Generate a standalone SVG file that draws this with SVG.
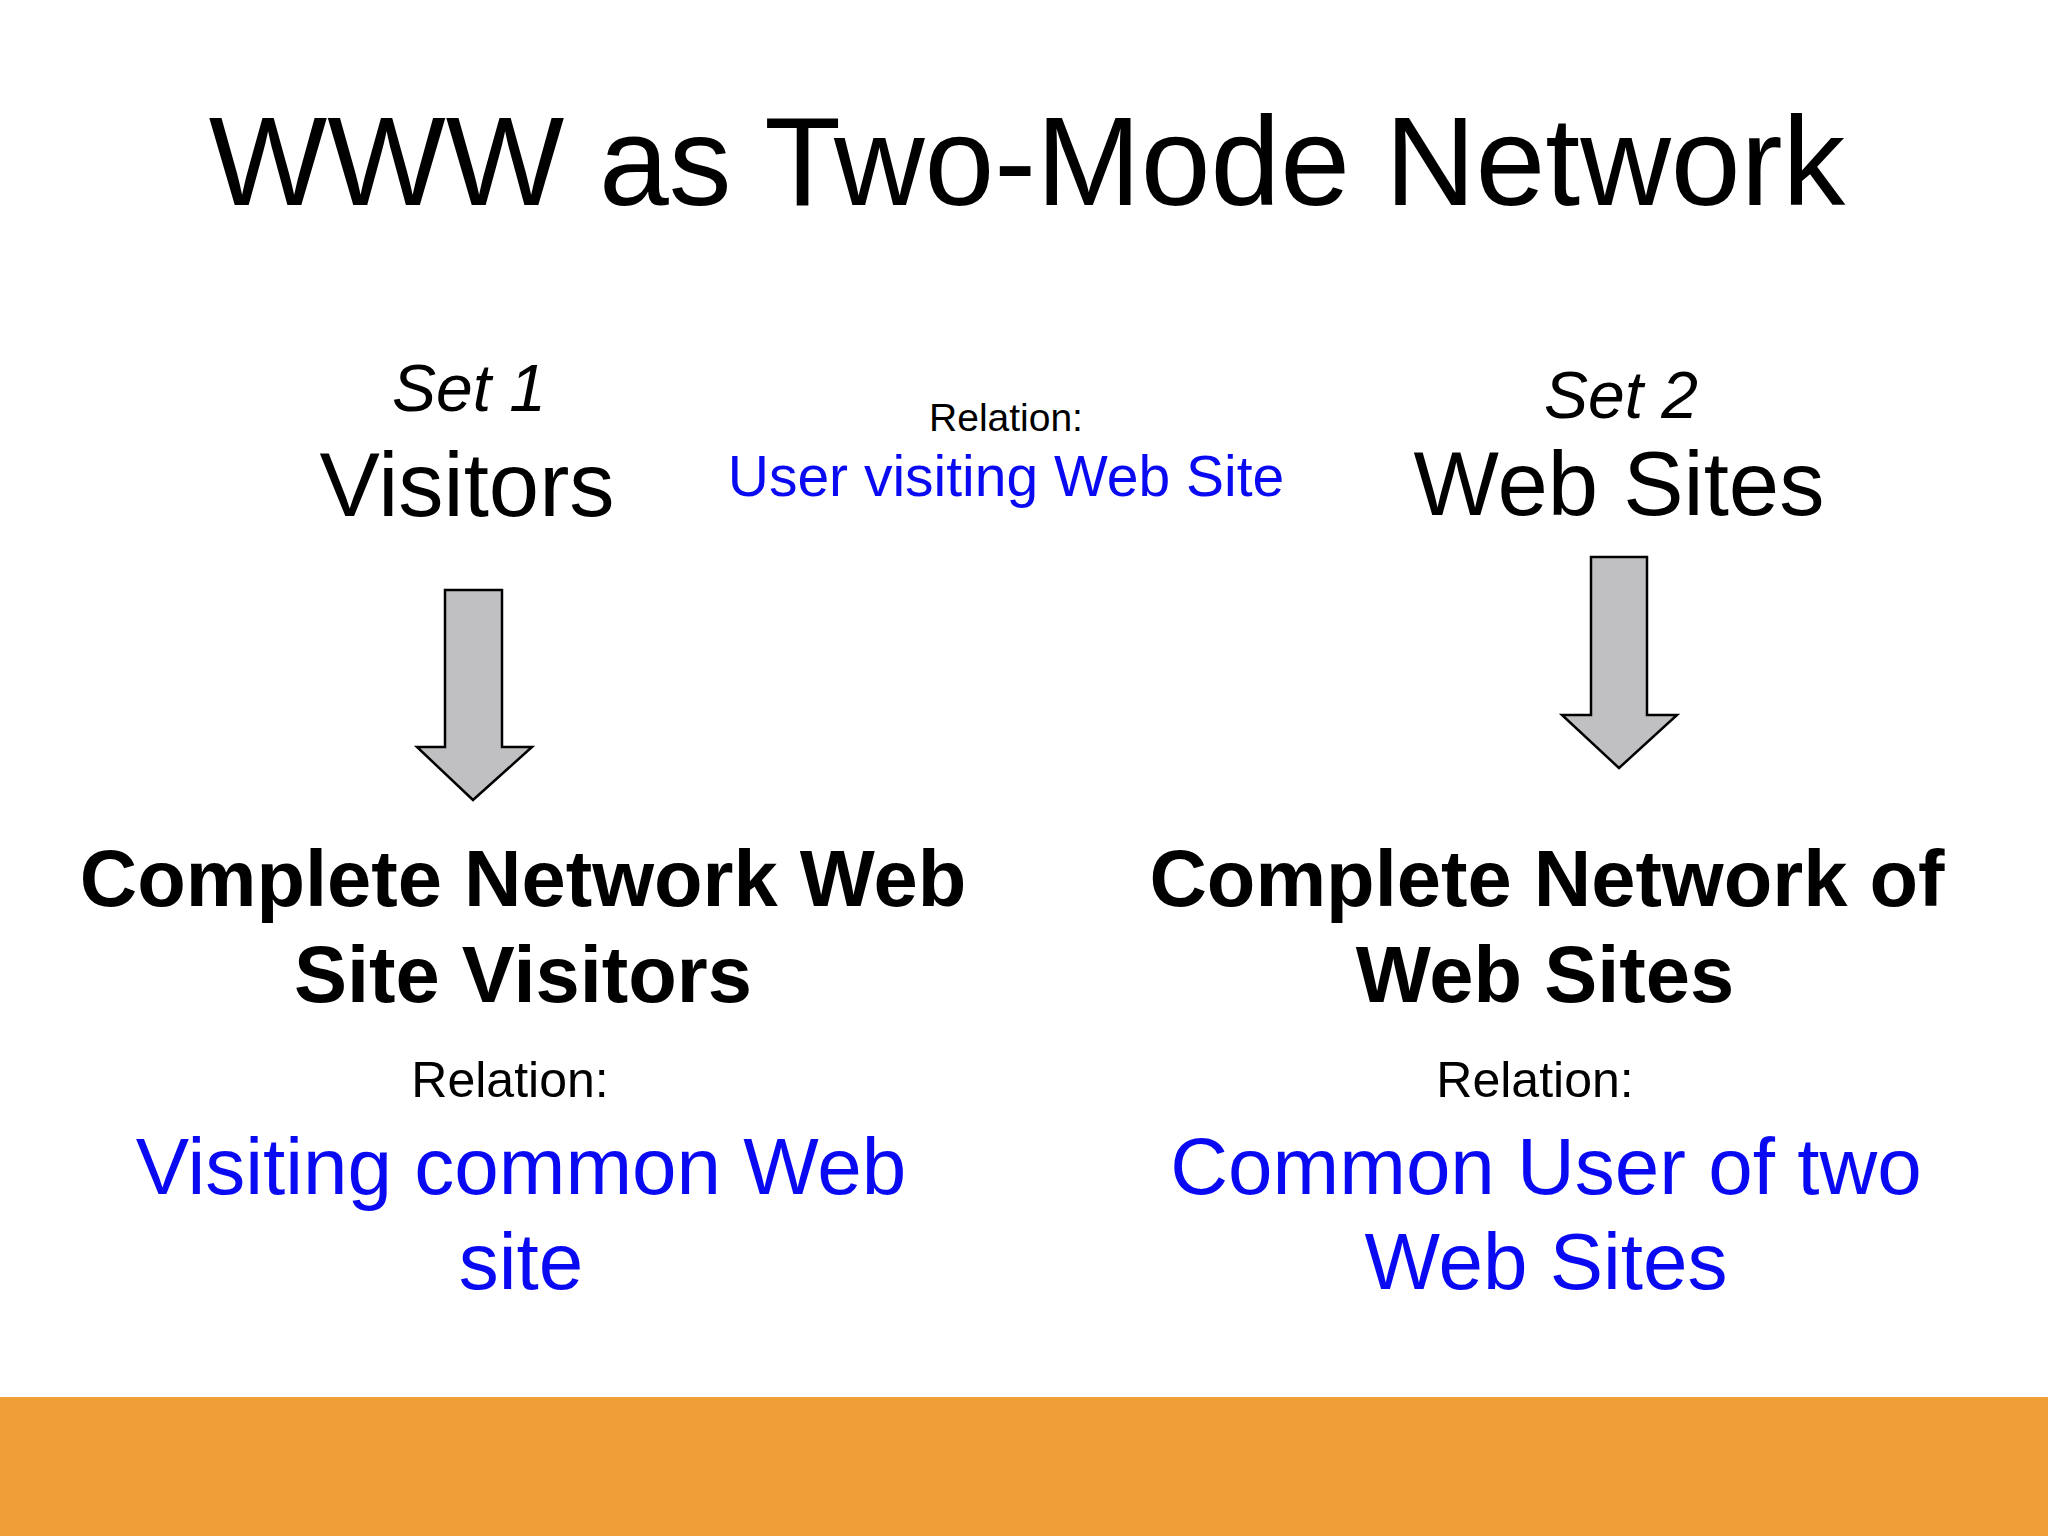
<svg xmlns="http://www.w3.org/2000/svg" width="2048" height="1536" viewBox="0 0 2048 1536">
<style>
text{font-family:"Liberation Sans",Arial,sans-serif;text-anchor:middle}
.blk{fill:#000}
.blue{fill:#0A0AF2}
.it{font-style:italic}
.bold{font-weight:bold}
.arrow{fill:#C0BFC2;stroke:#000;stroke-width:2.5;stroke-linejoin:miter}
</style>
<rect x="0" y="0" width="2048" height="1536" fill="#FFFFFF"/>
<rect x="0" y="1397" width="2048" height="139" fill="#F09E38"/>
<text x="1027" y="205" font-size="125.5" class="blk">WWW as Two-Mode Network</text>
<g id="set1">
<text x="469" y="411" font-size="66" class="blk it">Set 1</text>
<text x="467" y="516" font-size="90.5" class="blk">Visitors</text>
</g>
<g id="relation-top">
<text x="1006" y="431" font-size="39" class="blk">Relation:</text>
<text x="1006" y="496" font-size="57" class="blue">User visiting Web Site</text>
</g>
<g id="set2">
<text x="1621" y="418" font-size="66" class="blk it">Set 2</text>
<text x="1619" y="515" font-size="90.5" class="blk">Web Sites</text>
</g>
<g id="connectors">
<polygon class="arrow" points="445,590 502,590 502,747 532,747 473,800 417,747 445,747"/>
<polygon class="arrow" points="1591,557 1647,557 1647,715 1677,715 1619,768 1562,715 1591,715"/>
</g>
<g id="visitors-network">
<text x="523" y="906" font-size="79.5" class="blk bold">Complete Network Web</text>
<text x="523" y="1002" font-size="79.5" class="blk bold">Site Visitors</text>
<text x="510" y="1097" font-size="50" class="blk">Relation:</text>
<text x="521" y="1194" font-size="80" class="blue">Visiting common Web</text>
<text x="521" y="1289" font-size="80" class="blue">site</text>
</g>
<g id="websites-network">
<text x="1547" y="906" font-size="79.5" class="blk bold">Complete Network of</text>
<text x="1545" y="1002" font-size="79.5" class="blk bold">Web Sites</text>
<text x="1535" y="1097" font-size="50" class="blk">Relation:</text>
<text x="1546" y="1194" font-size="80" class="blue">Common User of two</text>
<text x="1546" y="1289" font-size="80" class="blue">Web Sites</text>
</g>
</svg>
